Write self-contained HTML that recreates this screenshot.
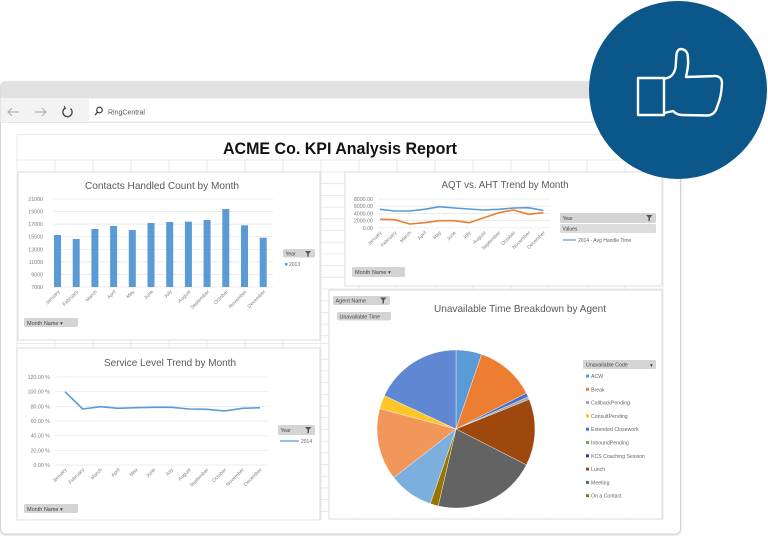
<!DOCTYPE html>
<html><head><meta charset="utf-8"><style>
html,body{margin:0;padding:0;background:#fff;}
svg{display:block;}
text{font-family:"Liberation Sans",sans-serif;}
</style></head><body>
<svg width="768" height="536" viewBox="0 0 768 536" xmlns="http://www.w3.org/2000/svg">
<defs>
<filter id="sh" x="-5%" y="-5%" width="110%" height="110%"><feDropShadow dx="0" dy="1" stdDeviation="1.5" flood-color="#000" flood-opacity="0.15"/></filter>
</defs>
<!-- window -->
<rect x="0.5" y="82" width="680" height="452" rx="5" fill="#fff" stroke="#d4d4d4" filter="url(#sh)"/>
<path d="M5.5 82 H675.5 A5 5 0 0 1 680.5 87 V98 H0.5 V87 A5 5 0 0 1 5.5 82 Z" fill="#e1e1e1"/>
<rect x="0.5" y="98" width="680" height="24" fill="#f3f3f3"/>
<rect x="89" y="99" width="591" height="22" fill="#fff"/>
<line x1="0.5" y1="122.5" x2="680" y2="122.5" stroke="#e6e6e6"/>
<!-- nav icons -->
<g stroke="#b4b4b4" stroke-width="1.2" fill="none">
<path d="M8 112 H19 M12 108 L8 112 L12 116"/>
<path d="M35 112 H46 M42 108 L46 112 L42 116"/>
</g>
<path d="M65 108.2 A4.6 4.6 0 1 0 70.5 108.6" stroke="#444" stroke-width="1.3" fill="none"/>
<path d="M64 106 L65.5 108.4 L63 109.5" stroke="#444" stroke-width="1.1" fill="none"/>
<circle cx="99.5" cy="110" r="2.8" stroke="#333" stroke-width="1.1" fill="none"/>
<line x1="97.5" y1="112.2" x2="95" y2="115" stroke="#333" stroke-width="1.2"/>
<text x="108" y="114.5" font-size="7" fill="#555">RingCentral</text>

<!-- sheet grid -->
<g stroke="#e3e3e3" stroke-width="0.8">
<line x1="17" y1="134.5" x2="663" y2="134.5"/>
<line x1="17" y1="160" x2="663" y2="160"/>
<line x1="17" y1="172" x2="663" y2="172"/>
<line x1="17" y1="183.7" x2="663" y2="183.7"/><line x1="17" y1="195.4" x2="663" y2="195.4"/><line x1="17" y1="207.1" x2="663" y2="207.1"/><line x1="17" y1="218.8" x2="663" y2="218.8"/><line x1="17" y1="230.5" x2="663" y2="230.5"/><line x1="17" y1="242.2" x2="663" y2="242.2"/><line x1="17" y1="253.9" x2="663" y2="253.9"/><line x1="17" y1="265.6" x2="663" y2="265.6"/><line x1="17" y1="277.3" x2="663" y2="277.3"/><line x1="17" y1="289" x2="663" y2="289"/><line x1="17" y1="300.7" x2="663" y2="300.7"/><line x1="17" y1="312.4" x2="663" y2="312.4"/><line x1="17" y1="324.1" x2="663" y2="324.1"/><line x1="17" y1="335.8" x2="663" y2="335.8"/><line x1="17" y1="343.5" x2="663" y2="343.5"/><line x1="17" y1="359.2" x2="663" y2="359.2"/><line x1="17" y1="370.9" x2="663" y2="370.9"/><line x1="17" y1="382.6" x2="663" y2="382.6"/><line x1="17" y1="394.3" x2="663" y2="394.3"/><line x1="17" y1="406" x2="663" y2="406"/><line x1="17" y1="417.7" x2="663" y2="417.7"/><line x1="17" y1="429.4" x2="663" y2="429.4"/><line x1="17" y1="441.1" x2="663" y2="441.1"/><line x1="17" y1="452.8" x2="663" y2="452.8"/><line x1="17" y1="464.5" x2="663" y2="464.5"/><line x1="17" y1="476.2" x2="663" y2="476.2"/><line x1="17" y1="487.9" x2="663" y2="487.9"/><line x1="17" y1="499.6" x2="663" y2="499.6"/><line x1="17" y1="511.3" x2="663" y2="511.3"/>
<line x1="17" y1="134.5" x2="17" y2="520"/><line x1="663" y1="134.5" x2="663" y2="520"/>
<line x1="55" y1="160" x2="55" y2="520"/><line x1="93" y1="160" x2="93" y2="520"/><line x1="131" y1="160" x2="131" y2="520"/><line x1="169" y1="160" x2="169" y2="520"/><line x1="207" y1="160" x2="207" y2="520"/><line x1="245" y1="160" x2="245" y2="520"/><line x1="283" y1="160" x2="283" y2="520"/><line x1="321" y1="160" x2="321" y2="520"/><line x1="359" y1="160" x2="359" y2="520"/><line x1="397" y1="160" x2="397" y2="520"/><line x1="435" y1="160" x2="435" y2="520"/><line x1="473" y1="160" x2="473" y2="520"/><line x1="511" y1="160" x2="511" y2="520"/><line x1="549" y1="160" x2="549" y2="520"/><line x1="587" y1="160" x2="587" y2="520"/><line x1="625" y1="160" x2="625" y2="520"/>
</g>
<text x="340" y="154" font-size="17" font-weight="bold" fill="#111" text-anchor="middle" textLength="234" lengthAdjust="spacingAndGlyphs">ACME Co. KPI Analysis Report</text>

<!-- ========== Chart 1 ========== -->
<rect x="18" y="172" width="302" height="168" fill="#fff" stroke="#d6d6d6" stroke-width="0.8"/>
<text x="162" y="189" font-size="10.5" fill="#595959" text-anchor="middle" textLength="154" lengthAdjust="spacingAndGlyphs">Contacts Handled Count by Month</text>
<g stroke="#e6e6e6" stroke-width="0.7">
<line x1="53" y1="199" x2="273" y2="199"/><line x1="53" y1="211.6" x2="273" y2="211.6"/><line x1="53" y1="224.1" x2="273" y2="224.1"/><line x1="53" y1="236.7" x2="273" y2="236.7"/><line x1="53" y1="249.3" x2="273" y2="249.3"/><line x1="53" y1="261.9" x2="273" y2="261.9"/><line x1="53" y1="274.4" x2="273" y2="274.4"/><line x1="53" y1="287" x2="273" y2="287"/>
</g>
<g font-size="5.3" fill="#7f7f7f" text-anchor="end">
<text x="43" y="201">21000</text><text x="43" y="213.6">19000</text><text x="43" y="226.1">17000</text><text x="43" y="238.7">15000</text><text x="43" y="251.3">13000</text><text x="43" y="263.9">11000</text><text x="43" y="276.4">9000</text><text x="43" y="289">7000</text>
</g>
<g fill="#5B9BD5">
<rect x="54" y="235" width="7" height="52"/><rect x="72.7" y="239" width="7" height="48"/><rect x="91.4" y="229" width="7" height="58"/><rect x="110.1" y="226" width="7" height="61"/><rect x="128.8" y="230" width="7" height="57"/><rect x="147.5" y="223" width="7" height="64"/><rect x="166.2" y="222" width="7" height="65"/><rect x="184.9" y="221.7" width="7" height="65.3"/><rect x="203.6" y="220" width="7" height="67"/><rect x="222.3" y="209" width="7" height="78"/><rect x="241" y="225.3" width="7" height="61.7"/><rect x="259.7" y="237.7" width="7" height="49.3"/>
</g>
<g font-size="5" fill="#7f7f7f" text-anchor="end">
<text transform="translate(60,292) rotate(-45)">January</text><text transform="translate(78.7,292) rotate(-45)">February</text><text transform="translate(97.4,292) rotate(-45)">March</text><text transform="translate(116.1,292) rotate(-45)">April</text><text transform="translate(134.8,292) rotate(-45)">May</text><text transform="translate(153.5,292) rotate(-45)">June</text><text transform="translate(172.2,292) rotate(-45)">July</text><text transform="translate(190.9,292) rotate(-45)">August</text><text transform="translate(209.6,292) rotate(-45)">September</text><text transform="translate(228.3,292) rotate(-45)">October</text><text transform="translate(247,292) rotate(-45)">November</text><text transform="translate(265.7,292) rotate(-45)">December</text>
</g>
<rect x="24" y="318" width="54" height="9" rx="1.5" fill="#d4d4d4"/>
<text x="27" y="324.8" font-size="5.5" fill="#444">Month Name  ▾</text>
<rect x="283" y="249" width="32" height="8.5" rx="1.5" fill="#d4d4d4"/>
<text x="285.5" y="255.3" font-size="5" fill="#444">Year</text>
<path d="M305 251 h6 l-2.3 2.6 v2.6 l-1.4 0.8 v-3.4 z" fill="#555"/>
<rect x="285" y="263" width="2.5" height="2.5" fill="#5B9BD5"/>
<text x="289" y="266" font-size="5" fill="#666">2013</text>

<!-- ========== Chart 2 ========== -->
<rect x="345" y="172" width="317" height="114" fill="#fff" stroke="#d6d6d6" stroke-width="0.8"/>
<text x="505" y="188" font-size="10.5" fill="#595959" text-anchor="middle" textLength="127" lengthAdjust="spacingAndGlyphs">AQT vs. AHT Trend by Month</text>
<g stroke="#e6e6e6" stroke-width="0.7">
<line x1="378" y1="199" x2="550" y2="199"/><line x1="378" y1="206.2" x2="550" y2="206.2"/><line x1="378" y1="213.4" x2="550" y2="213.4"/><line x1="378" y1="220.6" x2="550" y2="220.6"/><line x1="378" y1="227.8" x2="550" y2="227.8"/>
</g>
<g font-size="5.3" fill="#7f7f7f" text-anchor="end">
<text x="373" y="201">8000.00</text><text x="373" y="208.2">6000.00</text><text x="373" y="215.4">4000.00</text><text x="373" y="222.6">2000.00</text><text x="373" y="229.8">0.00</text>
</g>
<polyline fill="none" stroke="#5B9BD5" stroke-width="1.6" stroke-linejoin="round" points="380,209.3 394.85,211 409.7,211 424.55,209.3 439.4,206.7 454.25,208 469.1,209 483.95,210 498.8,209.3 513.65,208 528.5,207.7 543.35,210.5"/>
<polyline fill="none" stroke="#ED7D31" stroke-width="1.6" stroke-linejoin="round" points="380,219.3 394.85,219.7 409.7,224 424.55,222.7 439.4,220.7 454.25,220.7 469.1,222.7 483.95,217.7 498.8,212.7 513.65,210 528.5,214.3 543.35,212.7"/>
<g font-size="5" fill="#7f7f7f" text-anchor="end">
<text transform="translate(382,233) rotate(-45)">January</text><text transform="translate(396.85,233) rotate(-45)">February</text><text transform="translate(411.7,233) rotate(-45)">March</text><text transform="translate(426.55,233) rotate(-45)">April</text><text transform="translate(441.4,233) rotate(-45)">May</text><text transform="translate(456.25,233) rotate(-45)">June</text><text transform="translate(471.1,233) rotate(-45)">July</text><text transform="translate(485.95,233) rotate(-45)">August</text><text transform="translate(500.8,233) rotate(-45)">September</text><text transform="translate(515.65,233) rotate(-45)">October</text><text transform="translate(530.5,233) rotate(-45)">November</text><text transform="translate(545.35,233) rotate(-45)">December</text>
</g>
<rect x="352" y="267" width="53" height="10" rx="1.5" fill="#d4d4d4"/>
<text x="355" y="273.8" font-size="5.5" fill="#444">Month Name  ▾</text>
<rect x="560" y="213" width="96" height="10" rx="1.5" fill="#d4d4d4"/>
<text x="562.5" y="219.8" font-size="5" fill="#444">Year</text>
<path d="M646 215 h6.5 l-2.5 2.8 v2.8 l-1.5 0.9 v-3.7 z" fill="#555"/>
<rect x="560" y="224" width="96" height="9" rx="1.5" fill="#dcdcdc"/>
<text x="562.5" y="230.3" font-size="5" fill="#444">Values</text>
<line x1="563" y1="240" x2="576" y2="240" stroke="#5B9BD5" stroke-width="1.2"/>
<text x="578" y="241.8" font-size="5" fill="#666">2014 - Avg Handle Time</text>

<!-- ========== Chart 3 ========== -->
<rect x="17" y="348" width="303" height="172" fill="#fff" stroke="#d6d6d6" stroke-width="0.8"/>
<text x="170" y="366" font-size="10.5" fill="#595959" text-anchor="middle" textLength="132" lengthAdjust="spacingAndGlyphs">Service Level Trend by Month</text>
<g stroke="#e6e6e6" stroke-width="0.7">
<line x1="55" y1="377" x2="267" y2="377"/><line x1="55" y1="391.7" x2="267" y2="391.7"/><line x1="55" y1="406.3" x2="267" y2="406.3"/><line x1="55" y1="421" x2="267" y2="421"/><line x1="55" y1="435.7" x2="267" y2="435.7"/><line x1="55" y1="450.3" x2="267" y2="450.3"/><line x1="55" y1="465" x2="267" y2="465"/>
</g>
<g font-size="5.3" fill="#7f7f7f" text-anchor="end">
<text x="50" y="379">120.00 %</text><text x="50" y="393.7">100.00 %</text><text x="50" y="408.3">80.00 %</text><text x="50" y="423">60.00 %</text><text x="50" y="437.7">40.00 %</text><text x="50" y="452.3">20.00 %</text><text x="50" y="467">0.00 %</text>
</g>
<polyline fill="none" stroke="#5B9BD5" stroke-width="1.6" stroke-linejoin="round" points="65,391.7 82.7,409 100.5,406.7 118.2,408.3 135.9,407.7 153.6,407.3 171.4,407.3 189.1,409 206.8,409.3 224.6,411 242.3,408.3 260,407.7"/>
<g font-size="5" fill="#7f7f7f" text-anchor="end">
<text transform="translate(67,470) rotate(-45)">January</text><text transform="translate(84.7,470) rotate(-45)">February</text><text transform="translate(102.5,470) rotate(-45)">March</text><text transform="translate(120.2,470) rotate(-45)">April</text><text transform="translate(137.9,470) rotate(-45)">May</text><text transform="translate(155.6,470) rotate(-45)">June</text><text transform="translate(173.4,470) rotate(-45)">July</text><text transform="translate(191.1,470) rotate(-45)">August</text><text transform="translate(208.8,470) rotate(-45)">September</text><text transform="translate(226.6,470) rotate(-45)">October</text><text transform="translate(244.3,470) rotate(-45)">November</text><text transform="translate(262,470) rotate(-45)">December</text>
</g>
<rect x="24" y="504" width="54" height="9" rx="1.5" fill="#d4d4d4"/>
<text x="27" y="510.8" font-size="5.5" fill="#444">Month Name  ▾</text>
<rect x="278" y="425" width="37" height="10" rx="1.5" fill="#d4d4d4"/>
<text x="280.5" y="431.8" font-size="5" fill="#444">Year</text>
<path d="M305 427 h6.5 l-2.5 2.8 v2.8 l-1.5 0.9 v-3.7 z" fill="#555"/>
<line x1="280" y1="441" x2="299" y2="441" stroke="#5B9BD5" stroke-width="1.2"/>
<text x="301" y="442.8" font-size="5" fill="#666">2014</text>

<!-- ========== Chart 4 (pie) ========== -->
<rect x="329" y="290" width="333" height="229" fill="#fff" stroke="#d6d6d6" stroke-width="0.8"/>
<rect x="333" y="296" width="57" height="9" rx="1.5" fill="#d4d4d4"/>
<text x="335.5" y="302.5" font-size="5.5" fill="#444">Agent Name</text>
<path d="M380 297.5 h6.5 l-2.5 2.8 v2.8 l-1.5 0.9 v-3.7 z" fill="#555"/>
<rect x="337" y="312" width="54" height="8.5" rx="1.5" fill="#d4d4d4"/>
<text x="339.5" y="318.3" font-size="5.3" fill="#444">Unavailable Time</text>
<text x="520" y="312" font-size="10.5" fill="#595959" text-anchor="middle" textLength="172" lengthAdjust="spacingAndGlyphs">Unavailable Time Breakdown by Agent</text>
<g stroke="#fff" stroke-width="0.4">
<path d="M456 429 L456 350 A79 79 0 0 1 481.7 354.3 Z" fill="#5B9BD5"/>
<path d="M456 429 L481.7 354.3 A79 79 0 0 1 526.4 393.1 Z" fill="#ED7D31"/>
<path d="M456 429 L526.4 393.1 A79 79 0 0 1 528.2 396.9 Z" fill="#4472C4"/>
<path d="M456 429 L528.2 396.9 A79 79 0 0 1 529.2 399.4 Z" fill="#A5A5A5"/>
<path d="M456 429 L529.2 399.4 A79 79 0 0 1 526.4 464.9 Z" fill="#9E480E"/>
<path d="M456 429 L526.4 464.9 A79 79 0 0 1 438.2 506 Z" fill="#636363"/>
<path d="M456 429 L438.2 506 A79 79 0 0 1 430.3 503.7 Z" fill="#997300"/>
<path d="M456 429 L430.3 503.7 A79 79 0 0 1 393.7 477.6 Z" fill="#7CAFDD"/>
<path d="M456 429 L393.7 477.6 A79 79 0 0 1 379.7 408.6 Z" fill="#F1975A"/>
<path d="M456 429 L379.7 408.6 A79 79 0 0 1 384.4 395.6 Z" fill="#FFC629"/>
<path d="M456 429 L384.4 395.6 A79 79 0 0 1 456 350 Z" fill="#5F87D2"/>
</g>
<rect x="583" y="360" width="73" height="9" rx="1.5" fill="#d4d4d4"/>
<text x="586" y="366.5" font-size="5.3" fill="#444">Unavailable Code</text>
<text x="650" y="366.8" font-size="5.5" fill="#444">▾</text>
<g font-size="5.2" fill="#666">
<rect x="586" y="374.5" width="3" height="3" fill="#5B9BD5"/><text x="591" y="378">ACW</text>
<rect x="586" y="387.8" width="3" height="3" fill="#ED7D31"/><text x="591" y="391.3">Break</text>
<rect x="586" y="401.1" width="3" height="3" fill="#A5A5A5"/><text x="591" y="404.6">CallbackPending</text>
<rect x="586" y="414.4" width="3" height="3" fill="#FFC000"/><text x="591" y="417.9">ConsultPending</text>
<rect x="586" y="427.7" width="3" height="3" fill="#4472C4"/><text x="591" y="431.2">Extended Closework</text>
<rect x="586" y="441" width="3" height="3" fill="#70AD47"/><text x="591" y="444.5">InboundPending</text>
<rect x="586" y="454.3" width="3" height="3" fill="#264478"/><text x="591" y="457.8">KCS Coaching Session</text>
<rect x="586" y="467.6" width="3" height="3" fill="#9E480E"/><text x="591" y="471.1">Lunch</text>
<rect x="586" y="480.9" width="3" height="3" fill="#636363"/><text x="591" y="484.4">Meeting</text>
<rect x="586" y="494.2" width="3" height="3" fill="#997300"/><text x="591" y="497.7">On a Contact</text>
</g>

<!-- ========== Blue circle with thumbs up ========== -->
<circle cx="678" cy="90" r="89" fill="#0b578a"/>
<g fill="none" stroke="#fff" stroke-width="2.4" stroke-linejoin="round">
<rect x="638" y="78" width="26" height="37"/>
<path d="M664 79 L670 77 Q674 74 675.5 68 L676.5 54 Q677.5 49 681 49 Q686 49.5 687.5 54 Q689 63 687 72 L686 77 L716 76 Q722 77 722 83 Q721.5 93 719.5 100 L716 110 Q713 115.5 707 115.5 L682 115 Q677 115 673 111 Q669 112 664 113"/>
</g>
</svg>
</body></html>
